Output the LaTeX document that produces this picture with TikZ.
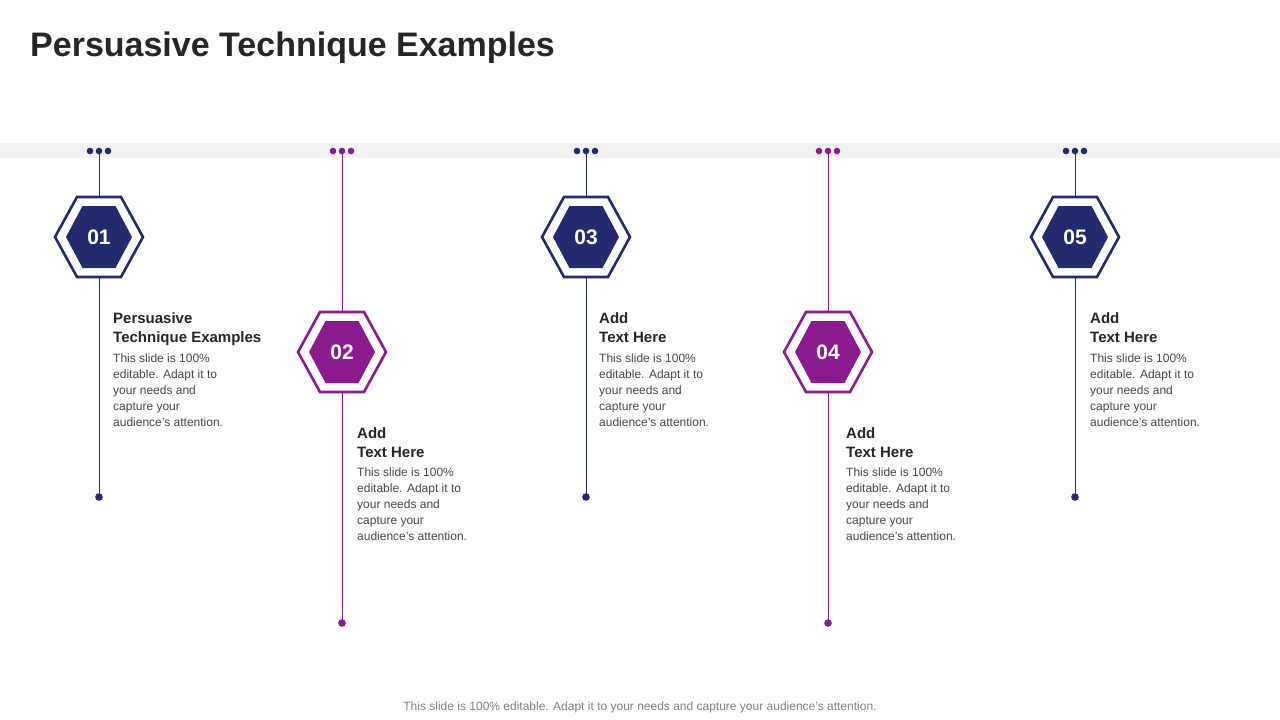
\documentclass[tikz,border=0pt]{standalone}
\usepackage{fontspec}
\setmainfont{Liberation Sans}
\definecolor{navy}{HTML}{232A6E}
\definecolor{purp}{HTML}{8B1A8F}
\definecolor{band}{HTML}{F2F2F2}
\definecolor{txt}{HTML}{262626}
\tikzset{
 hexo/.style={line width=2.6pt,fill=white},
 hexi/.style={},
 num/.style={text=white,font=\bfseries\fontsize{21}{21}\selectfont},
 head/.style={anchor=north west,align=left,text=txt,font=\bfseries\fontsize{15}{19}\selectfont,inner sep=0pt},
 body/.style={anchor=north west,align=left,text=txt!85,font=\fontsize{12}{16}\selectfont,inner sep=0pt},
}
\newcommand{\stage}[6]{% x, y, color, endy, num, name
 \draw[#3,line width=1pt] (#1,151) -- (#1,#4);
 \fill[#3] (#1,#4) circle (3.8);
 \foreach \d in {-9,0,9} \fill[#3] (#1+\d,151) circle (3.3);
 \draw[#3,hexo] (#1-44,#2) -- (#1-22,#2-40) -- (#1+22,#2-40) -- (#1+44,#2) -- (#1+22,#2+40) -- (#1-22,#2+40) -- cycle;
 \fill[#3] (#1-33,#2) -- (#1-16.5,#2-31) -- (#1+16.5,#2-31) -- (#1+33,#2) -- (#1+16.5,#2+31) -- (#1-16.5,#2+31) -- cycle;
 \node[num] (#6) at (#1,#2) {#5};
}
\begin{document}
\begin{tikzpicture}[x=1pt,y=-1pt]
\useasboundingbox (0,0) rectangle (1280,720);
\fill[white] (0,0) rectangle (1280,720);
\node[anchor=west,text=txt,font=\bfseries\fontsize{34}{34}\selectfont,inner sep=0pt] (title) at (30,48) {Persuasive Technique Examples};
\fill[band] (0,143) rectangle (1280,158);
\stage{99}{237}{navy}{497}{01}{s1}
\stage{342}{352}{purp}{623}{02}{s2}
\stage{586}{237}{navy}{497}{03}{s3}
\stage{828}{352}{purp}{623}{04}{s4}
\stage{1075}{237}{navy}{497}{05}{s5}
\newcommand{\bodytext}{This slide is 100\%\\editable. Adapt it to\\your needs and\\capture your\\audience's attention.}
\node[head] (h1) at (113,312) {Persuasive\\Technique Examples};
\node[body] (b1) at (113,354) {\bodytext};
\node[head] (h2) at (357,427) {Add\\Text Here};
\node[body] (b2) at (357,468) {\bodytext};
\node[head] (h3) at (599,312) {Add\\Text Here};
\node[body] (b3) at (599,354) {\bodytext};
\node[head] (h4) at (846,427) {Add\\Text Here};
\node[body] (b4) at (846,468) {\bodytext};
\node[head] (h5) at (1090,312) {Add\\Text Here};
\node[body] (b5) at (1090,354) {\bodytext};
\node[text=gray,font=\fontsize{12}{12}\selectfont] (foot) at (640,707) {This slide is 100\% editable. Adapt it to your needs and capture your audience's attention.};
\end{tikzpicture}
\end{document}
